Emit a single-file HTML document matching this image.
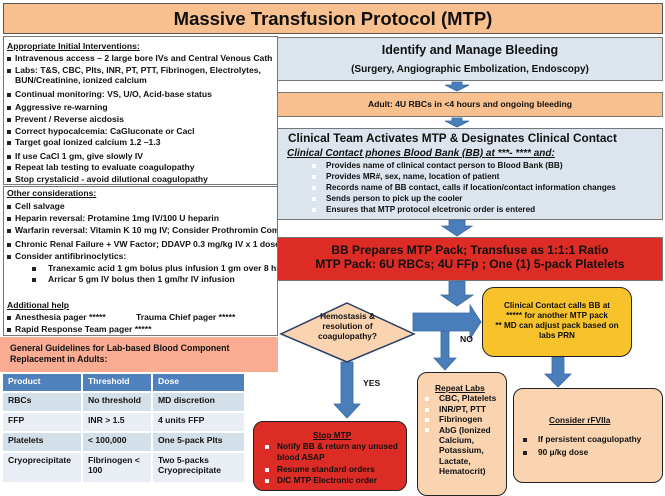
<!DOCTYPE html>
<html><head><meta charset="utf-8"><style>
*{margin:0;padding:0;box-sizing:border-box}
body{width:665px;height:493px;background:#fff;position:relative;overflow:hidden;font-family:"Liberation Sans",Arial,sans-serif;font-weight:bold;color:#111}
.a{position:absolute}
.bx{position:absolute;border:1.5px solid #555}
.t{position:absolute;white-space:nowrap;font-size:8.6px;line-height:11px}
.l{position:absolute;white-space:nowrap;font-size:8.6px;line-height:10px}
.u{text-decoration:underline}
.sq{display:inline-block;width:4px;height:4px;background:#222;margin-right:4px;vertical-align:middle}
.ws{display:inline-block;width:4px;height:4px;background:#fff;margin-right:10px;vertical-align:middle}
table{border-collapse:separate;border-spacing:2px;font-size:8.6px}
td{padding:2px 5px;vertical-align:top}
</style></head><body>
<div class="bx" style="left:3px;top:3px;width:660px;height:31px;background:#f8bf8f;border-color:#555"></div>
<div class="a" style="left:3px;top:8px;width:660px;text-align:center;font-size:18.5px">Massive Transfusion Protocol (MTP)</div>

<div class="bx" style="left:3px;top:36px;width:275px;height:149px;border-color:#777"></div>
<div class="l u" style="left:7px;top:41px">Appropriate Initial Interventions:</div>
<div class="l" style="left:7px;top:53px"><span class="sq"></span>Intravenous access – 2 large bore IVs and Central Venous Cath</div>
<div class="l" style="left:7px;top:65px"><span class="sq"></span>Labs: T&amp;S, CBC, Plts, INR, PT, PTT, Fibrinogen, Electrolytes,</div>
<div class="l" style="left:15px;top:75px">BUN/Creatinine, ionized calcium</div>
<div class="l" style="left:7px;top:89px"><span class="sq"></span>Continual monitoring: VS, U/O, Acid-base status</div>
<div class="l" style="left:7px;top:102px"><span class="sq"></span>Aggressive re-warning</div>
<div class="l" style="left:7px;top:114px"><span class="sq"></span>Prevent / Reverse aicdosis</div>
<div class="l" style="left:7px;top:126px"><span class="sq"></span>Correct hypocalcemia: CaGluconate or Cacl</div>
<div class="l" style="left:7px;top:137px"><span class="sq"></span>Target goal ionized calcium 1.2 –1.3</div>
<div class="l" style="left:7px;top:151px"><span class="sq"></span>If use CaCl 1 gm, give slowly IV</div>
<div class="l" style="left:7px;top:162px"><span class="sq"></span>Repeat lab testing to evaluate coagulopathy</div>
<div class="l" style="left:7px;top:174px"><span class="sq"></span>Stop crystalicid - avoid dilutional coagulopathy</div>

<div class="bx" style="left:3px;top:186px;width:275px;height:150px;border-color:#777"></div>
<div style="position:absolute;left:0;top:186px;width:277px;height:150px;overflow:hidden">
<div class="l u" style="left:7px;top:2px">Other considerations:</div>
<div class="l" style="left:7px;top:15px"><span class="sq"></span>Cell salvage</div>
<div class="l" style="left:7px;top:27px"><span class="sq"></span>Heparin reversal: Protamine 1mg IV/100 U heparin</div>
<div class="l" style="left:7px;top:39px"><span class="sq"></span>Warfarin reversal: Vitamin K 10 mg IV; Consider Prothromin Complex</div>
<div class="l" style="left:7px;top:53px"><span class="sq"></span>Chronic Renal Failure + VW Factor; DDAVP 0.3 mg/kg IV x 1 dose</div>
<div class="l" style="left:7px;top:65px"><span class="sq"></span>Consider antifibrinoclytics:</div>
<div class="l" style="left:32px;top:77px"><span class="sq" style="margin-right:12px"></span>Tranexamic acid 1 gm bolus plus infusion 1 gm over 8 hrs</div>
<div class="l" style="left:32px;top:88px"><span class="sq" style="margin-right:12px"></span>Arricar 5 gm IV bolus then 1 gm/hr IV infusion</div>
<div class="l u" style="left:7px;top:114px">Additional help</div>
<div class="l" style="left:7px;top:126px"><span class="sq"></span>Anesthesia pager *****</div>
<div class="l" style="left:136px;top:126px">Trauma Chief pager *****</div>
<div class="l" style="left:7px;top:138px"><span class="sq"></span>Rapid Response Team pager *****</div>
</div>
<div class="a" style="left:0;top:337px;width:278px;height:35px;background:#f9ac92"></div>
<div class="t" style="left:10px;top:343px;font-size:8.8px;line-height:10.5px">General Guidelines for Lab-based Blood Component<br>Replacement in Adults:</div>
<table class="a" style="left:1px;top:372px;width:245px">
<tr style="background:#4f81bd;color:#fff;height:17px"><td style="width:78px">Product</td><td style="width:68px">Threshold</td><td>Dose</td></tr>
<tr style="background:#d3dfe9;height:18px"><td>RBCs</td><td>No threshold</td><td>MD discretion</td></tr>
<tr style="background:#e9eef5;height:18px"><td>FFP</td><td>INR &gt; 1.5</td><td>4 units FFP</td></tr>
<tr style="background:#d3dfe9;height:18px"><td>Platelets</td><td>&lt; 100,000</td><td>One 5-pack Plts</td></tr>
<tr style="background:#e9eef5;height:29px"><td>Cryoprecipitate</td><td>Fibrinogen &lt;<br>100</td><td>Two 5-packs<br>Cryoprecipitate</td></tr>
</table>

<div class="bx" style="left:277px;top:37px;width:386px;height:44px;background:#dce4ee;border-color:#777"></div>
<div class="a" style="left:277px;top:43px;width:386px;text-align:center;font-size:12.5px">Identify and Manage Bleeding</div>
<div class="a" style="left:277px;top:64px;width:386px;text-align:center;font-size:10px">(Surgery, Angiographic Embolization, Endoscopy)</div>

<svg class="a" style="left:0;top:0" width="665" height="493">
<g fill="#4a7ebb" stroke="#3a68a0" stroke-width="0.8">
<polygon points="452,82 462,82 462,85 469,85 457,91 445,85 452,85"/>
<polygon points="452,118 462,118 462,121 469,121 457,127 445,121 452,121"/>
<polygon points="449,220 465,220 465,226 472,226 457,236 442,226 449,226"/>
<polygon points="449,281 465,281 465,295 473,295 457,306 441,295 449,295"/>
<polygon points="413,313 470,313 470,305 481,322 470,339 470,331 413,331"/>
<polygon points="441,331 449,331 449,358 456,358 445,370 434,358 441,358"/>
<polygon points="341,362 353,362 353,404 360,404 347,418 334,404 341,404"/>
<polygon points="552,357 564,357 564,374 571,374 558,387 545,374 552,374"/>
</g>
<polygon points="347,303 414,334 347,362 281,334" fill="#fad4b0" stroke="#2a3f66" stroke-width="1.5"/>
</svg>

<div class="bx" style="left:277px;top:92px;width:386px;height:25px;background:#f8bf8f;border-color:#777"></div>
<div class="a" style="left:277px;top:99px;width:386px;text-align:center;font-size:8.6px">Adult: 4U RBCs in &lt;4 hours and ongoing bleeding</div>

<div class="bx" style="left:277px;top:128px;width:386px;height:92px;background:#dce4ee;border-color:#777"></div>
<div class="a" style="left:288px;top:131px;font-size:11.8px;white-space:nowrap">Clinical Team Activates MTP &amp; Designates Clinical Contact</div>
<div class="a u" style="left:287px;top:148px;font-size:10px;font-style:italic;white-space:nowrap">Clinical Contact phones Blood Bank (BB) at ***- **** and:</div>
<div class="t" style="left:312px;top:160px;font-size:8.2px;line-height:11px">
<div><span class="ws"></span>Provides name of clinical contact person to Blood Bank (BB)</div>
<div><span class="ws"></span>Provides MR#, sex, name, location of patient</div>
<div><span class="ws"></span>Records name of BB contact, calls if location/contact information changes</div>
<div><span class="ws"></span>Sends person to pick up the cooler</div>
<div><span class="ws"></span>Ensures that MTP protocol elcetronic order is entered</div>
</div>

<div class="bx" style="left:277px;top:237px;width:386px;height:44px;background:#dd2c25;border-color:#777"></div>
<div class="a" style="left:277px;top:243px;width:386px;text-align:center;font-size:12px;line-height:14px">BB Prepares MTP Pack; Transfuse as 1:1:1 Ratio<br>MTP Pack: 6U RBCs; 4U FFp ; One (1) 5-pack Platelets</div>

<div class="a" style="left:281px;top:311px;width:133px;text-align:center;font-size:8.3px;line-height:10px">Hemostasis &amp;<br>resolution of<br>coagulopathy?</div>
<div class="t" style="left:460px;top:334px">NO</div>
<div class="t" style="left:363px;top:378px">YES</div>

<div class="bx" style="left:482px;top:287px;width:150px;height:70px;background:#f8c22b;border:1.5px solid #222;border-radius:12px"></div>
<div class="a" style="left:482px;top:301px;width:150px;text-align:center;font-size:8.2px;line-height:10px">Clinical Contact calls BB at<br>***** for another MTP pack<br>** MD can adjust pack based on<br>labs PRN</div>

<div class="bx" style="left:417px;top:372px;width:90px;height:124px;background:#fad4b0;border:1.5px solid #222;border-radius:10px"></div>
<div class="t" style="left:425px;top:383px;font-size:8.4px;line-height:10.4px">
<div class="u" style="padding-left:10px">Repeat Labs</div>
<div><span class="ws"></span>CBC, Platelets</div>
<div><span class="ws"></span>INR/PT, PTT</div>
<div><span class="ws"></span>Fibrinogen</div>
<div><span class="ws"></span>AbG (Ionized</div>
<div style="padding-left:14px">Calcium,<br>Potassium,<br>Lactate,<br>Hematocrit)</div>
</div>

<div class="bx" style="left:253px;top:421px;width:154px;height:70px;background:#dd2c25;border:1.5px solid #222;border-radius:10px"></div>
<div class="t" style="left:265px;top:430px;font-size:8.3px;line-height:11px">
<div class="u" style="padding-left:48px">Stop MTP</div>
<div><span class="ws" style="margin-right:8px"></span>Notify BB &amp; return any unused</div>
<div style="padding-left:12px">blood ASAP</div>
<div style="margin-top:1px"><span class="ws" style="margin-right:8px"></span>Resume standard orders</div>
<div><span class="ws" style="margin-right:8px"></span>D/C MTP Electronic order</div>
</div>

<div class="bx" style="left:513px;top:388px;width:150px;height:95px;background:#fad4b0;border:1.5px solid #222;border-radius:10px"></div>
<div class="t" style="left:523px;top:414px;font-size:8.3px;line-height:13px">
<div class="u" style="padding-left:26px">Consider rFVIIa</div>
<div style="margin-top:6px"><span class="sq" style="margin-right:11px"></span>If persistent coagulopathy</div>
<div><span class="sq" style="margin-right:11px"></span>90 μ/kg dose</div>
</div>
</body></html>
